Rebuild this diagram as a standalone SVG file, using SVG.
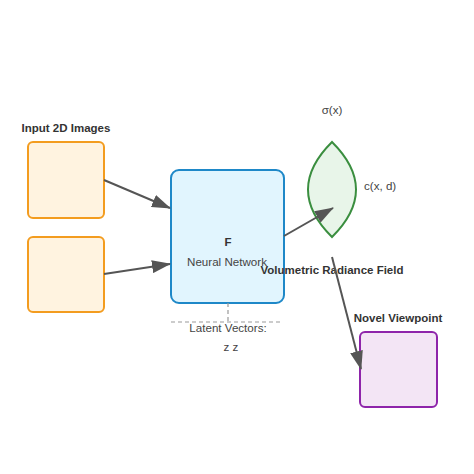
<svg xmlns="http://www.w3.org/2000/svg" width="474" height="474" viewBox="0 0 474 474">
<style>
text{font-family:"Liberation Sans",Arial,sans-serif;fill:#333}
.t{font-size:11.5px;font-weight:bold}
.l{font-size:11.6px;fill:#444}
.img{fill:#fff3e0;stroke:#f39c1f;stroke-width:2}
.c{stroke:#555;stroke-width:2;fill:none}
.d{stroke:#999;stroke-width:1.2;stroke-dasharray:4 3;fill:none}
</style>
<defs>
<marker id="ahL" markerWidth="19" markerHeight="13" refX="18" refY="6.5" orient="auto" markerUnits="userSpaceOnUse" viewBox="0 0 19 13">
<path d="M0,0 L19,6.5 L0,13 Z" fill="#555"/>
</marker>
</defs>
<rect width="474" height="474" fill="#fff"/>
<g id="input-label"><text class="t" x="66" y="132" text-anchor="middle">Input 2D Images</text></g>
<g id="img1"><rect class="img" x="28" y="142" width="76" height="76" rx="5"/></g>
<g id="img2"><rect class="img" x="28" y="237" width="76" height="75" rx="5"/></g>
<g id="nn">
<rect x="171" y="170" width="113" height="133" rx="8" fill="#e1f5fe" stroke="#1e88c8" stroke-width="2"/>
<text class="t" x="228" y="246" text-anchor="middle">F</text>
<text class="l" x="227" y="266" text-anchor="middle">Neural Network</text>
</g>
<g id="field">
<path d="M332,142 Q284,189.5 332,237 Q380,189.5 332,142 Z" fill="#e8f5e9" stroke="#3a8e3f" stroke-width="2"/>
<text class="l" x="332" y="114" text-anchor="middle">σ(x)</text>
<text class="l" x="364" y="190">c(x, d)</text>
<text class="t" x="332" y="274" text-anchor="middle">Volumetric Radiance Field</text>
</g>
<g id="novel">
<text class="t" x="398" y="322" text-anchor="middle">Novel Viewpoint</text>
<rect x="360" y="332" width="77" height="75" rx="5" fill="#f3e5f5" stroke="#8e24aa" stroke-width="2"/>
</g>
<g id="latent">
<text class="l" x="228" y="332" text-anchor="middle">Latent Vectors:</text>
<text class="l" x="231" y="351" text-anchor="middle">z z</text>
</g>
<g id="connectors">
<line class="c" x1="104" y1="180" x2="170" y2="208" marker-end="url(#ahL)"/>
<line class="c" x1="104" y1="274" x2="170" y2="264" marker-end="url(#ahL)"/>
<line class="c" x1="284" y1="236" x2="333" y2="208" marker-end="url(#ahL)"/>
<line class="c" x1="332" y1="257" x2="361" y2="369" marker-end="url(#ahL)"/>
<line class="d" x1="228" y1="303" x2="228" y2="322"/>
<line class="d" x1="171" y1="322" x2="283" y2="322"/>
</g>
</svg>
